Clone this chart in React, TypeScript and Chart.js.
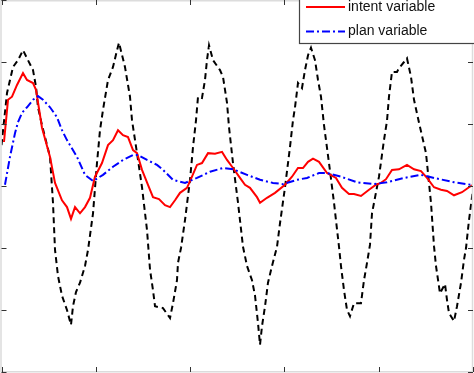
import React, { useEffect, useRef } from "react";
import { Chart, registerables } from "chart.js";

Chart.register(...registerables);

// Axis ticks (no labels are visible in the cropped reference)
const xTicks = [0, 20, 40, 60, 80, 100];
const yTicks = [-3, -2, -1, 0, 1, 2, 3];

// Black dashed series (legend entry cropped out of view)
const blackX = [0, 1.17, 2.44, 3.5, 4.56, 5.41, 6.68, 7.32, 7.74, 8.59, 10.29, 10.92, 11.35, 11.98, 12.83, 13.89, 14.74, 15.16, 15.8, 16.65, 17.71, 18.35, 19.41, 20.25, 20.89, 21.53, 22.59, 23.65, 24.5, 24.92, 26.19, 27.25, 27.68, 28.74, 29.8, 30.86, 31.5, 32.13, 32.56, 34.25, 35.74, 36.37, 37.22, 37.43, 38.07, 38.92, 39.98, 40.62, 41.25, 41.68, 42.52, 43.16, 43.58, 44.01, 44.86, 46.34, 46.98, 47.83, 48.25, 49.1, 50.16, 51.22, 52.07, 53.13, 53.77, 54.4, 54.83, 55.25, 55.89, 56.52, 57.37, 58.43, 59.07, 60.13, 61.19, 61.82, 62.25, 62.88, 63.73, 64.37, 65.01, 65.64, 66.49, 67.13, 67.76, 68.4, 69.46, 70.52, 71.58, 72.0, 72.64, 73.28, 73.91, 74.76, 76.24, 76.88, 77.52, 78.15, 78.58, 80.06, 81.12, 81.76, 82.18, 82.82, 83.88, 84.3, 85.37, 86.0, 86.85, 87.49, 88.55, 90.03, 91.09, 91.73, 92.15, 93.0, 94.06, 94.49, 94.91, 95.97, 96.61, 97.46, 98.09, 98.52, 99.15, 100];
const blackY = [0.66, 1.5, 1.92, 2.03, 2.19, 2.06, 1.87, 1.6, 1.27, 0.98, 0.47, -0.27, -1.03, -1.45, -1.77, -2.0, -2.24, -1.94, -1.71, -1.56, -1.29, -1.03, -0.44, 0.37, 0.9, 1.23, 1.71, 1.92, 2.19, 2.31, 1.92, 1.44, 1.06, 0.53, -0.02, -0.71, -1.35, -1.68, -1.94, -1.97, -2.13, -1.89, -1.52, -1.24, -1.0, -0.55, 0.1, 0.63, 1.06, 1.44, 1.42, 1.71, 2.03, 2.27, 2.03, 1.87, 1.76, 1.34, 0.95, 0.37, -0.27, -0.98, -1.29, -1.52, -1.77, -2.21, -2.56, -2.26, -1.94, -1.56, -1.29, -0.98, -0.6, -0.02, 0.63, 1.06, 1.27, 1.66, 1.58, 1.87, 2.11, 2.23, 2.03, 1.71, 1.44, 0.98, 0.37, -0.27, -0.98, -1.29, -1.68, -2.0, -2.1, -1.89, -1.89, -1.52, -1.24, -0.95, -0.44, 0.15, 0.74, 1.05, 1.44, 1.84, 1.84, 1.9, 2.0, 2.06, 1.76, 1.39, 1.02, 0.53, -0.27, -0.97, -1.29, -1.73, -1.58, -1.84, -2.05, -2.18, -1.94, -1.56, -1.19, -1.0, -0.55, -0.06];

// Red solid: intent variable
const redX = [0.53, 1.38, 2.23, 3.29, 4.56, 5.41, 6.68, 7.32, 8.59, 10.29, 11.35, 12.83, 13.89, 14.74, 15.59, 16.65, 17.71, 18.77, 19.83, 21.31, 22.59, 23.65, 24.71, 25.77, 26.83, 27.89, 28.74, 29.8, 31.07, 32.13, 33.4, 34.68, 35.74, 36.8, 37.86, 39.34, 40.4, 41.46, 42.52, 43.8, 45.28, 46.77, 47.83, 49.1, 50.58, 51.64, 52.7, 54.19, 54.83, 56.31, 58.01, 60.13, 61.61, 62.88, 63.94, 65.01, 66.07, 67.34, 69.04, 70.94, 72.21, 73.7, 74.76, 76.24, 77.94, 79.43, 80.49, 81.55, 82.82, 84.3, 86.0, 87.49, 88.97, 90.24, 91.73, 93.21, 94.49, 95.97, 97.67, 99.15, 100];
const redY = [0.71, 1.39, 1.44, 1.63, 1.82, 1.71, 1.66, 1.55, 0.94, 0.47, 0.05, -0.23, -0.34, -0.53, -0.34, -0.44, -0.34, -0.19, 0.15, 0.37, 0.66, 0.74, 0.9, 0.82, 0.79, 0.58, 0.53, 0.26, 0.02, -0.18, -0.21, -0.31, -0.34, -0.23, -0.11, -0.03, 0.15, 0.34, 0.37, 0.53, 0.52, 0.55, 0.42, 0.29, 0.13, 0.02, -0.03, -0.18, -0.27, -0.19, -0.11, 0.02, 0.15, 0.29, 0.29, 0.39, 0.44, 0.39, 0.21, 0.13, -0.03, -0.13, -0.13, -0.16, -0.06, 0.02, 0.05, 0.11, 0.26, 0.27, 0.34, 0.27, 0.24, 0.13, -0.02, -0.06, -0.08, -0.15, -0.1, -0.02, 0.02];

// Blue dash-dot: plan variable
const blueX = [0.74, 1.8, 2.86, 3.5, 4.35, 5.41, 6.68, 7.74, 8.8, 10.29, 11.77, 12.83, 13.89, 16.01, 17.71, 19.41, 21.53, 23.65, 25.77, 27.89, 28.95, 30.86, 32.98, 34.25, 36.37, 38.92, 41.46, 44.22, 46.98, 49.1, 52.07, 54.83, 57.58, 59.7, 62.67, 64.79, 67.34, 69.04, 72.0, 75.4, 79.0, 81.76, 85.37, 88.97, 91.73, 95.97, 99.58];
const blueY = [0.02, 0.47, 0.85, 1.03, 1.18, 1.27, 1.39, 1.45, 1.39, 1.27, 1.11, 0.9, 0.74, 0.47, 0.18, 0.08, 0.18, 0.31, 0.42, 0.5, 0.5, 0.42, 0.34, 0.26, 0.1, 0.05, 0.13, 0.23, 0.29, 0.27, 0.18, 0.1, 0.05, 0.03, 0.1, 0.13, 0.21, 0.21, 0.15, 0.06, 0.03, 0.06, 0.13, 0.18, 0.13, 0.06, 0.02];

const legendLabels = ["intent variable", "plan variable"];
const legendColors = ["#ff0000", "#0000ff"];
const legendDashes: number[][] = [[], [8, 3, 2, 3]];

const toPoints = (xs: number[], ys: number[]) => xs.map((x, i) => ({ x, y: ys[i] }));

const axesPlugin = {
  id: "matlabAxes",
  afterDatasetsDraw(chart: any) {
    const { ctx, chartArea } = chart;
    const xs = chart.scales.x;
    const ys = chart.scales.y;
    const { left, right, top, bottom } = chartArea;
    ctx.save();
    // light box
    ctx.strokeStyle = "#dcdcdc";
    ctx.lineWidth = 1.5;
    ctx.strokeRect(left - 0.5, top + 0.75, right - left, bottom - top - 1);
    // inward ticks
    ctx.strokeStyle = "#333333";
    ctx.lineWidth = 1;
    ctx.beginPath();
    const tl = 5;
    xTicks.forEach((v) => {
      const px = Math.round(xs.getPixelForValue(v)) + 0.5;
      ctx.moveTo(px, bottom);
      ctx.lineTo(px, bottom - tl);
      ctx.moveTo(px, top);
      ctx.lineTo(px, top + tl);
    });
    yTicks.forEach((v) => {
      const py = Math.round(ys.getPixelForValue(v)) + 0.5;
      ctx.moveTo(left, py);
      ctx.lineTo(left + tl, py);
      ctx.moveTo(right, py);
      ctx.lineTo(right - tl, py);
    });
    ctx.stroke();

    // legend box (cropped by the top and right edges)
    const bx = 299.5;
    const by = -40;
    const bw = 200;
    const bh = 83.5;
    ctx.fillStyle = "#ffffff";
    ctx.fillRect(bx, by, bw, bh);
    ctx.strokeStyle = "#444444";
    ctx.lineWidth = 1.2;
    ctx.strokeRect(bx, by, bw, bh);
    const rows = [7, 31.5];
    ctx.font = '14px "Liberation Sans", Arial, sans-serif';
    ctx.textBaseline = "middle";
    legendLabels.forEach((label, i) => {
      const y = rows[i];
      ctx.strokeStyle = legendColors[i];
      ctx.lineWidth = 2;
      ctx.setLineDash(legendDashes[i]);
      ctx.beginPath();
      ctx.moveTo(306, y);
      ctx.lineTo(345, y);
      ctx.stroke();
      ctx.setLineDash([]);
      ctx.fillStyle = "#111111";
      ctx.fillText(label, 348, y);
    });
    ctx.restore();
  },
};

export default function App() {
  const ref = useRef<HTMLCanvasElement | null>(null);
  useEffect(() => {
    if (!ref.current) return;
    const chart = new Chart(ref.current, {
      type: "line",
      data: {
        datasets: [
          {
            label: "plan variable",
            data: toPoints(blueX, blueY),
            borderColor: "#0000ff",
            borderWidth: 2,
            borderDash: [8, 3, 2, 3],
            pointRadius: 0,
            fill: false,
            tension: 0,
            order: 0,
          },
          {
            label: "intent variable",
            data: toPoints(redX, redY),
            borderColor: "#ff0000",
            borderWidth: 2,
            pointRadius: 0,
            fill: false,
            tension: 0,
            order: 1,
          },
          {
            label: "signal",
            data: toPoints(blackX, blackY),
            borderColor: "#000000",
            borderWidth: 2,
            borderDash: [6, 4],
            pointRadius: 0,
            fill: false,
            tension: 0,
            order: 2,
          },
        ],
      },
      options: {
        animation: false,
        responsive: false,
        maintainAspectRatio: false,
        layout: { padding: { left: 1.5, right: 1, top: 0, bottom: 1 } },
        plugins: { legend: { display: false }, tooltip: { enabled: false } },
        scales: {
          x: { type: "linear", min: 0, max: 100, display: false },
          y: { type: "linear", min: -3, max: 3, display: false },
        },
      },
      plugins: [axesPlugin],
    });
    return () => chart.destroy();
  }, []);
  return (
    <div style={{ position: "fixed", left: 0, top: 0, width: 474, height: 373, background: "#fff" }}>
      <canvas ref={ref} width={474} height={373} style={{ display: "block" }} />
    </div>
  );
}
